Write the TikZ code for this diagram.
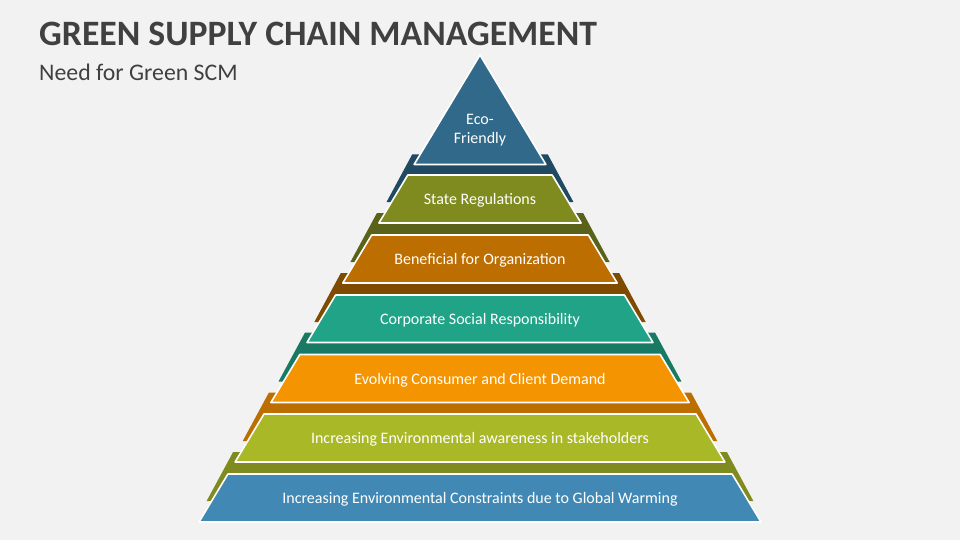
\documentclass[tikz,border=0pt]{standalone}
\usepackage{fontspec}
\setmainfont{Carlito}
\definecolor{bg}{HTML}{F2F2F2}
\definecolor{ttl}{HTML}{404040}
\definecolor{fa}{HTML}{31698A}\definecolor{da}{HTML}{1F4A62}
\definecolor{fb}{HTML}{7F8A1F}\definecolor{db}{HTML}{5A6119}
\definecolor{fc}{HTML}{BC6E00}\definecolor{dc}{HTML}{7E4B00}
\definecolor{fd}{HTML}{20A386}\definecolor{dd}{HTML}{187A63}
\definecolor{fe}{HTML}{F49400}\definecolor{de}{HTML}{BC6E00}
\definecolor{ff}{HTML}{A9B826}\definecolor{df}{HTML}{7F8A1F}
\definecolor{fg}{HTML}{4189B4}
\tikzset{
  front/.style={draw=white, line width=1.6pt, line join=round},
  lbl/.style={text=white, font=\fontsize{16}{19.5}\selectfont, anchor=base, inner sep=0pt, align=center},
}
\begin{document}
\begin{tikzpicture}[x=1pt,y=-1pt]
\fill[bg] (0,0) rectangle (960,540);
\useasboundingbox (0,0) rectangle (960,540);
\def\sl{0.6017}
% dark back bands
\foreach \B/\Tn/\dcol in {164.5/175/da, 223/235/db, 283/295/dc, 342.5/354.5/dd, 402.5/414/de, 462/474/df}{
  \pgfmathsetmacro\yt{\B-10}
  \pgfmathsetmacro\ym{\Tn+27}
  \pgfmathsetmacro\wt{\sl*(\yt-55)+8}
  \pgfmathsetmacro\wm{\sl*(\ym-55)+5}
  \fill[\dcol] ({480-\wt},\yt) -- ({480+\wt},\yt) -- ({480+\wm},\ym) -- ({480-\wm},\ym) -- cycle;
}
% top triangle
\pgfmathsetmacro\wb{\sl*(164.5-55)}
\filldraw[front, fill=fa] (480,55) -- ({480+\wb},164.5) -- ({480-\wb},164.5) -- cycle;
% trapezoid fronts
\foreach \T/\B/\fcol in {175/223/fb, 235/283/fc, 295/342.5/fd, 354.5/402.5/fe, 414/462/ff, 474/522/fg}{
  \pgfmathsetmacro\wa{\sl*(\T-55)}
  \pgfmathsetmacro\wb{\sl*(\B-55)}
  \filldraw[front, fill=\fcol] ({480-\wa},\T) -- ({480+\wa},\T) -- ({480+\wb},\B) -- ({480-\wb},\B) -- cycle;
}
% labels
\node[lbl] (l1) at (480,144) {Eco-\\Friendly};
\node[lbl] (l2) at (480,204.5) {State Regulations};
\node[lbl] (l3) at (480,264.5) {Beneficial for Organization};
\node[lbl] (l4) at (480,324.3) {Corporate Social Responsibility};
\node[lbl] (l5) at (480,384) {Evolving Consumer and Client Demand};
\node[lbl] (l6) at (480,443.5) {Increasing Environmental awareness in stakeholders};
\node[lbl] (l7) at (480,503.5) {Increasing Environmental Constraints due to Global Warming};
% title
\node[anchor=base west, inner sep=0pt, text=ttl, font=\fontsize{35.7}{40}\selectfont\bfseries] (title) at (39,46) {GREEN SUPPLY CHAIN MANAGEMENT};
\node[anchor=base west, inner sep=0pt, text=ttl, font=\fontsize{23.8}{28}\selectfont] (sub) at (39,81) {Need for Green SCM};
\end{tikzpicture}
\end{document}
